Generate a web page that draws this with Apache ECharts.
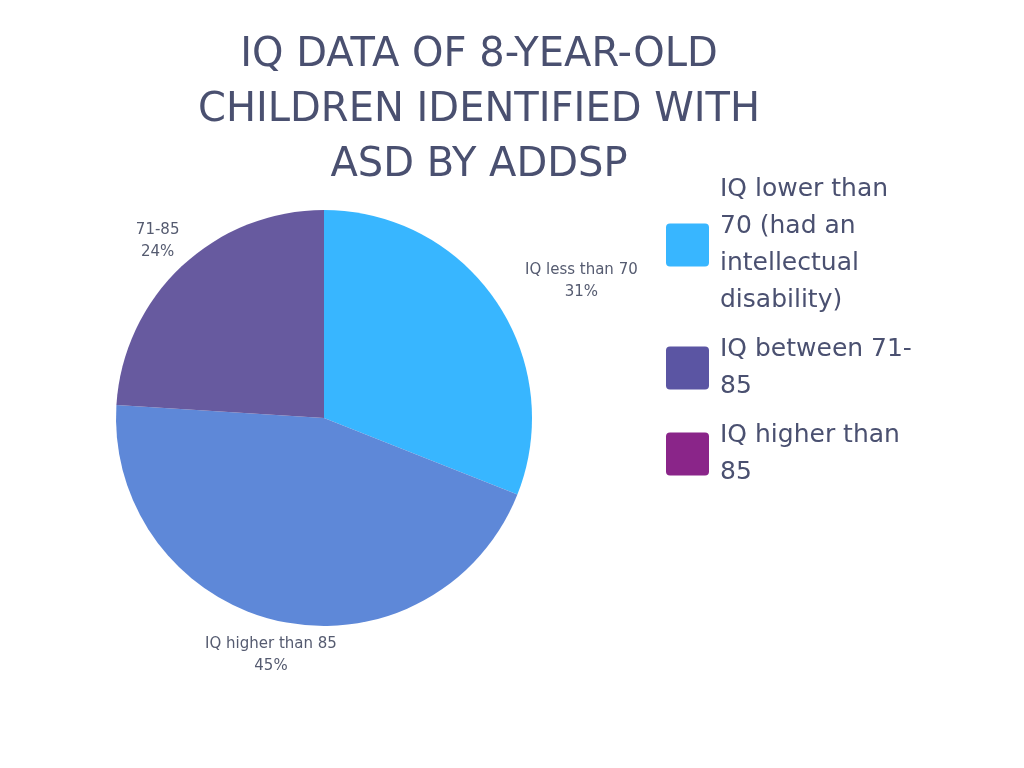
<!DOCTYPE html>
<html>
<head>
<meta charset="utf-8">
<script src="https://cdn.jsdelivr.net/npm/echarts@6/dist/echarts.min.js"></script>
<style>
  html, body { margin: 0; padding: 0; background: #fff; }
  #main { width: 1024px; height: 768px; }
</style>
</head>
<body>
<div id="main"></div>
<script>
  // 数据（按饼图顺时针顺序）
  const names = ['IQ lower than 70 (had an intellectual disability)', 'IQ higher than 85', 'IQ between 71-85'];
  const sliceLabels = ['IQ less than 70', 'IQ higher than 85', '71-85'];
  const values = [31, 45, 24];
  const sliceColors = ['#38B6FF', '#5E88D8', '#675A9F'];

  // 图例（顺序与颜色和饼图不同）
  const legendNames = ['IQ lower than 70 (had an intellectual disability)', 'IQ between 71-85', 'IQ higher than 85'];
  const legendLines = [
    ['IQ lower than', '70 (had an', 'intellectual', 'disability)'],
    ['IQ between 71-', '85'],
    ['IQ higher than', '85']
  ];
  const legendColors = ['#38B6FF', '#5B55A3', '#8A2589'];

  const fontFamily = '"DejaVu Sans", "Open Sans", sans-serif';
  const textColor = '#4A5070';

  var myChart = echarts.init(document.getElementById('main'));

  const option = {
    backgroundColor: '#ffffff',
    title: {
      text: 'IQ DATA OF 8-YEAR-OLD\nCHILDREN IDENTIFIED WITH\nASD BY ADDSP',
      left: 474,
      top: 23,
      textAlign: 'center',
      textStyle: {
        fontFamily: fontFamily,
        fontSize: 40,
        fontWeight: 'normal',
        color: textColor,
        lineHeight: 55
      }
    },
    legend: {
      orient: 'vertical',
      left: 661,
      top: 166,
      itemWidth: 43,
      itemHeight: 43,
      itemGap: 12,
      icon: 'path://M4,0 H39 A4,4 0 0 1 43,4 V39 A4,4 0 0 1 39,43 H4 A4,4 0 0 1 0,39 V4 A4,4 0 0 1 4,0 Z',
      data: legendNames.map(function (n, i) {
        return { name: n, itemStyle: { color: legendColors[i] } };
      }),
      formatter: function (name) {
        return legendLines[legendNames.indexOf(name)].join('\n');
      },
      selectedMode: false,
      textStyle: {
        fontFamily: fontFamily,
        fontSize: 25,
        color: textColor,
        lineHeight: 37,
        padding: [0, 0, 0, 6]
      }
    },
    series: [{
      type: 'pie',
      center: [324, 418],
      radius: 208,
      startAngle: 90,
      clockwise: true,
      avoidLabelOverlap: false,
      data: names.map(function (n, i) {
        return { name: n, value: values[i], itemStyle: { color: sliceColors[i] } };
      }),
      label: {
        show: true,
        position: 'outside',
        distanceToLabelLine: 0,
        fontFamily: fontFamily,
        fontSize: 15,
        color: '#555B70',
        lineHeight: 22,
        formatter: function (p) {
          return sliceLabels[p.dataIndex] + '\n' + values[p.dataIndex] + '%';
        }
      },
      labelLine: { show: false, length: 35, length2: 0 },
      labelLayout: function (params) {
        const pts = params.labelLinePoints;
        const anchor = pts[pts.length - 1];
        let x = anchor[0];
        if (params.dataIndex === 0) {
          x = anchor[0] + params.labelRect.width / 2;
        }
        return { x: x, y: anchor[1], align: 'center', verticalAlign: 'middle' };
      },
      emphasis: { disabled: true }
    }]
  };

  myChart.setOption(option);
</script>
</body>
</html>
